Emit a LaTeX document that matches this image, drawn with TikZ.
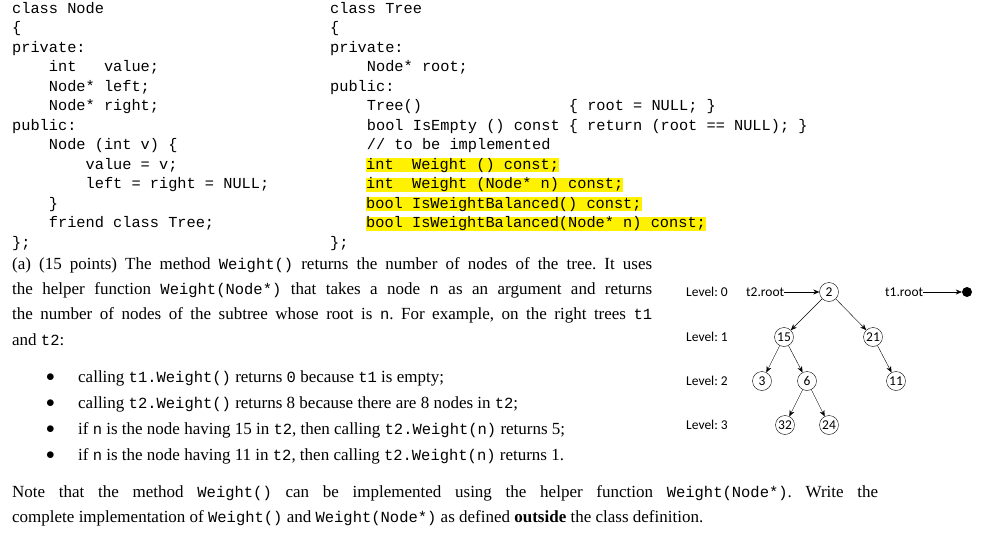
\documentclass[tikz,border=0pt]{standalone}
\usepackage{fontspec}
\setmainfont{Liberation Serif}
\setmonofont{Liberation Mono}
\newfontfamily\treefont{Carlito}
\usetikzlibrary{positioning,arrows.meta}
\frenchspacing
\tikzset{
  code/.style={anchor=west,inner sep=0pt,font=\fontsize{15.3}{19}\ttfamily,text height=11pt,text depth=3pt},
  mark yellow/.style={code,fill=yellow},
  prose/.style={anchor=west,inner sep=0pt,font=\fontsize{17}{25}\selectfont},
  tnode/.style={circle,draw,inner sep=0pt,minimum size=19pt,font=\fontsize{13.5}{15}\treefont},
  tlabel/.style={inner sep=0pt,font=\fontsize{13.5}{15}\treefont}
}
\newcommand{\cw}[1]{{\fontsize{15.5}{25}\ttfamily #1}}
\newcommand{\fullline}[2]{\makebox[#1][s]{#2}}
\begin{document}
\begin{tikzpicture}[x=1pt,y=-1pt,>={Stealth[length=6pt,width=5pt]}]
\useasboundingbox (0,0) rectangle (988,554);
% class Node
\foreach \t [count=\i from 0] in {class Node,\{,private:,~~~~int~~~value;,~~~~Node* left;,~~~~Node* right;,public:,~~~~Node (int v) \{,~~~~~~~~value = v;,~~~~~~~~left = right = NULL;,~~~~\},~~~~friend class Tree;,\};}
  \node[code] at (12,9+19.5*\i) {\t};
% class Tree
\foreach \t [count=\i from 0] in {class Tree,\{,private:,~~~~Node* root;,public:,~~~~Tree()~~~~~~~~~~~~~~~~\{ root = NULL; \},~~~~bool IsEmpty () const \{ return (root == NULL); \},~~~~// to be implemented}
  \node[code] at (330,9+19.5*\i) {\t};
\foreach \t [count=\i from 8] in {int~~Weight () const;,int~~Weight (Node* n) const;,bool IsWeightBalanced() const;,bool IsWeightBalanced(Node* n) const;}
  \node[mark yellow] at (366,9+19.5*\i) {\t};
\node[code] at (330,243) {\};};
% text
\node[prose] (p1) at (12,265) {\fullline{640pt}{(a) (15 points) The method \cw{Weight()} returns the number of nodes of the tree. It uses}};
\node[prose] (p2) at (12,290) {\fullline{640pt}{the helper function \cw{Weight(Node*)} that takes a node \cw{n} as an argument and returns}};
\node[prose] (p3) at (12,315) {\fullline{640pt}{the number of nodes of the subtree whose root is \cw{n}. For example, on the right trees \cw{t1}}};
\node[prose] (p4) at (12,340) {and \cw{t2}:};
\foreach \t [count=\i from 0] in {calling \cw{t1.Weight()} returns \cw{0} because \cw{t1} is empty;,
  calling \cw{t2.Weight()} returns 8 because there are 8 nodes in \cw{t2};,
  if \cw{n} is the node having 15 in \cw{t2}{,} then calling \cw{t2.Weight(n)} returns 5;,
  if \cw{n} is the node having 11 in \cw{t2}{,} then calling \cw{t2.Weight(n)} returns 1.}
{
  \node[prose] at (46,378+26*\i) {$\bullet$};
  \node[prose] at (78,378+26*\i) {\t};
}
\node[prose] (n1) at (12,493) {\fullline{866pt}{Note that the method \cw{Weight()} can be implemented using the helper function \cw{Weight(Node*)}. Write the}};
\node[prose] (n2l) at (12,518) {complete implementation of \cw{Weight()} and \cw{Weight(Node*)} as defined \textbf{outside} the class definition.};
% tree
\foreach \l [count=\i from 0] in {292,337,381,425}
  \node[tlabel,anchor=west] at (686,\l) {Level: \i};
\node[tnode] (n2) at (829,292) {2};
\node[tnode] (n15) at (784,337) {15};
\node[tnode] (n21) at (873,337) {21};
\node[tnode] (n3) at (762,381) {3};
\node[tnode] (n6) at (807,381) {6};
\node[tnode] (n11) at (896,381) {11};
\node[tnode] (n32) at (785,425) {32};
\node[tnode] (n24) at (829,425) {24};
\node[tlabel,anchor=west] (t2r) at (746,292) {t2.root};
\node[tlabel,anchor=west] (t1r) at (885,292) {t1.root};
\node[circle,fill,inner sep=0pt,minimum size=10pt] (nil) at (967,292) {};
\draw[->] (t2r) -- (n2);
\draw[->] (t1r) -- (nil);
\foreach \a/\b in {n2/n15,n2/n21,n15/n3,n15/n6,n21/n11,n6/n32,n6/n24}
  \draw[->] (\a) -- (\b);
\end{tikzpicture}
\end{document}
